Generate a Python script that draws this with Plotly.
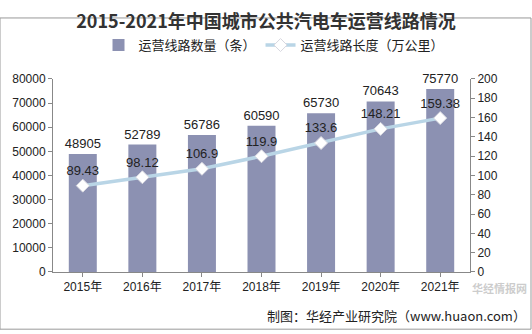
import plotly.graph_objects as go

years = ["2015年", "2016年", "2017年", "2018年", "2019年", "2020年", "2021年"]
line_count = [48905, 52789, 56786, 60590, 65730, 70643, 75770]
line_length = [89.43, 98.12, 106.9, 119.9, 133.6, 148.21, 159.38]
length_labels = ["89.43", "98.12", "106.9", "119.9", "133.6", "148.21", "159.38"]

fig = go.Figure()
fig.add_trace(go.Bar(
    x=years, y=line_count, name="运营线路数量（条）",
    marker=dict(color="#8c91b2", line=dict(width=0)),
    width=0.47,
    text=[str(v) for v in line_count], textposition="outside",
    constraintext="none",
    textfont=dict(size=13, color="#222", family="Liberation Sans, Arial"),
    cliponaxis=False,
))
fig.add_trace(go.Scatter(
    x=years, y=line_length, name="运营线路长度（万公里）", yaxis="y2",
    mode="lines+markers+text",
    line=dict(color="#b9d5e6", width=3.5),
    marker=dict(symbol="diamond", size=10, color="white", line=dict(color="#d8d8e0", width=1)),
    text=length_labels, textposition="top center",
    textfont=dict(size=13, color="#222", family="Liberation Sans, Arial"),
    cliponaxis=False,
))

fig.update_layout(
    width=532, height=334,
    margin=dict(l=53, r=62, t=66, b=62),
    paper_bgcolor="white", plot_bgcolor="white",
    font=dict(family="Liberation Sans, Noto Sans CJK SC", size=12, color="#222"),
    title=dict(text="<b>2015-2021年中国城市公共汽电车运营线路情况</b>",
               x=0.5, xanchor="center", y=0.935, yanchor="middle",
               font=dict(size=18, color="#333", family="Noto Sans CJK SC")),
    legend=dict(orientation="h", x=0.53, xanchor="center", y=0.865, yanchor="middle",
                yref="container",
                font=dict(size=13, color="#222", family="Noto Sans CJK SC"),
                bgcolor="rgba(0,0,0,0)", traceorder="normal"),
    xaxis=dict(showline=True, linecolor="#888", ticks="outside", tickcolor="#888",
               ticklen=4, showgrid=False, tickfont=dict(size=12, family="Liberation Sans, Noto Sans CJK SC")),
    yaxis=dict(range=[0, 80000], dtick=10000, tickformat="d", showline=True, linecolor="#888",
               ticks="outside", tickcolor="#888", ticklen=4, showgrid=False,
               tickfont=dict(size=12), zeroline=False),
    yaxis2=dict(range=[0, 200], dtick=20, overlaying="y", side="right", showline=True,
                linecolor="#888", ticks="outside", tickcolor="#888", ticklen=4,
                showgrid=False, tickfont=dict(size=12), zeroline=False),
    shapes=[dict(type="rect", xref="paper", yref="paper", x0=-53/417, x1=(417+61)/417,
                 y0=-61/206, y1=(206+65)/206, line=dict(color="#999", width=1))],
    annotations=[
        dict(text="制图：华经产业研究院（www.huaon.com）", xref="paper", yref="paper",
             x=(417+58)/417, y=-46/206, xanchor="right", yanchor="middle", showarrow=False,
             font=dict(size=13, color="#222", family="Noto Sans CJK SC")),
        dict(text="<b>华经情报网</b>", xref="paper", yref="paper",
             x=(417+59)/417, y=-17/206, xanchor="right", yanchor="middle", showarrow=False,
             font=dict(size=11, color="rgba(170,170,170,0.6)", family="Noto Sans CJK SC")),
    ],
)

fig.write_html("out.html")
